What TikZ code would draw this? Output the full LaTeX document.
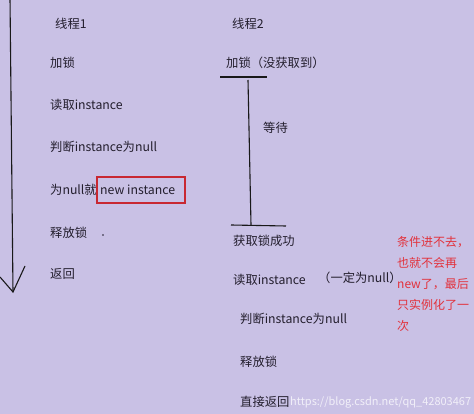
\documentclass[tikz,border=0pt]{standalone}
\usepackage{fontspec}
\setmainfont{Noto Sans CJK SC}
\definecolor{bg}{RGB}{201,193,229}
\definecolor{txt}{RGB}{35,30,45}
\definecolor{redtxt}{RGB}{226,50,60}
\definecolor{boxred}{RGB}{200,40,50}
\begin{document}
\begin{tikzpicture}[x=1pt,y=-1pt,
  lbl/.style={anchor=west,inner sep=0pt,font=\fontsize{12.3}{14}\selectfont,text=txt},
  rl/.style={anchor=west,inner sep=0pt,font=\fontsize{12}{21}\selectfont,text=redtxt,align=left},
  pen/.style={draw=black!90,line width=1.1pt},
]
\fill[bg] (0,0) rectangle (474,414);
\useasboundingbox (0,0) rectangle (474,414);
% thread 1 arrow
\coordinate (t1top) at (10,-2);
\coordinate (t1tip) at (13,292);
\coordinate (t1la) at (0,277);
\coordinate (t1ra) at (25,266);
\draw[pen] (t1top) -- (t1tip);
\draw[pen] (t1la) -- (t1tip) -- (t1ra);
% thread 1 texts
\node[lbl] (a0) at (55,24) {线程1};
\node[lbl] (a1) at (50,63) {加锁};
\node[lbl] (a2) at (50,105) {读取instance};
\node[lbl] (a3) at (50,147) {判断instance为null};
\node[lbl] (a4) at (50,190) {为null就};
\node[lbl] (a4b) at (100,190) {new instance};
\draw[boxred,line width=1.1pt] (97,177) rectangle (185,203);
\node[lbl] (a5) at (50,233) {释放锁};
\fill[txt] (103,235) circle (0.9);
\node[lbl] (a6) at (50,274) {返回};
% thread 2
\node[lbl] (b0) at (232,24) {线程2};
\node[lbl] (b1) at (226,63) {加锁（没获取到）};
\coordinate (h1l) at (220,77);
\coordinate (h1r) at (267,77);
\coordinate (vtop) at (248,80);
\coordinate (vbot) at (251,225);
\coordinate (h2l) at (231,225);
\coordinate (h2r) at (286,226);
\draw[pen] (h1l) -- (h1r);
\draw[pen] (vtop) -- (vbot);
\draw[pen] (h2l) -- (h2r);
\node[lbl] (wait) at (263,128) {等待};
\node[lbl] (b2) at (233,241) {获取锁成功};
\node[lbl] (b3) at (233,280) {读取instance};
\node[lbl] (b3n) at (318,278) {（一定为null）};
\node[lbl] (b4) at (240,319) {判断instance为null};
\node[lbl] (b5) at (240,362) {释放锁};
\node[lbl] (b6) at (240,402) {直接返回};
\node[anchor=west,inner sep=0pt,font=\fontsize{11}{13}\selectfont,text=white,opacity=0.75] (wm) at (290,402) {https://blog.csdn.net/qq\_42803467};
% red note
\node[rl,anchor=north west] (note) at (397,236) {条件进不去，\\也就不会再\\new了，最后\\只实例化了一\\次};
\end{tikzpicture}
\end{document}
